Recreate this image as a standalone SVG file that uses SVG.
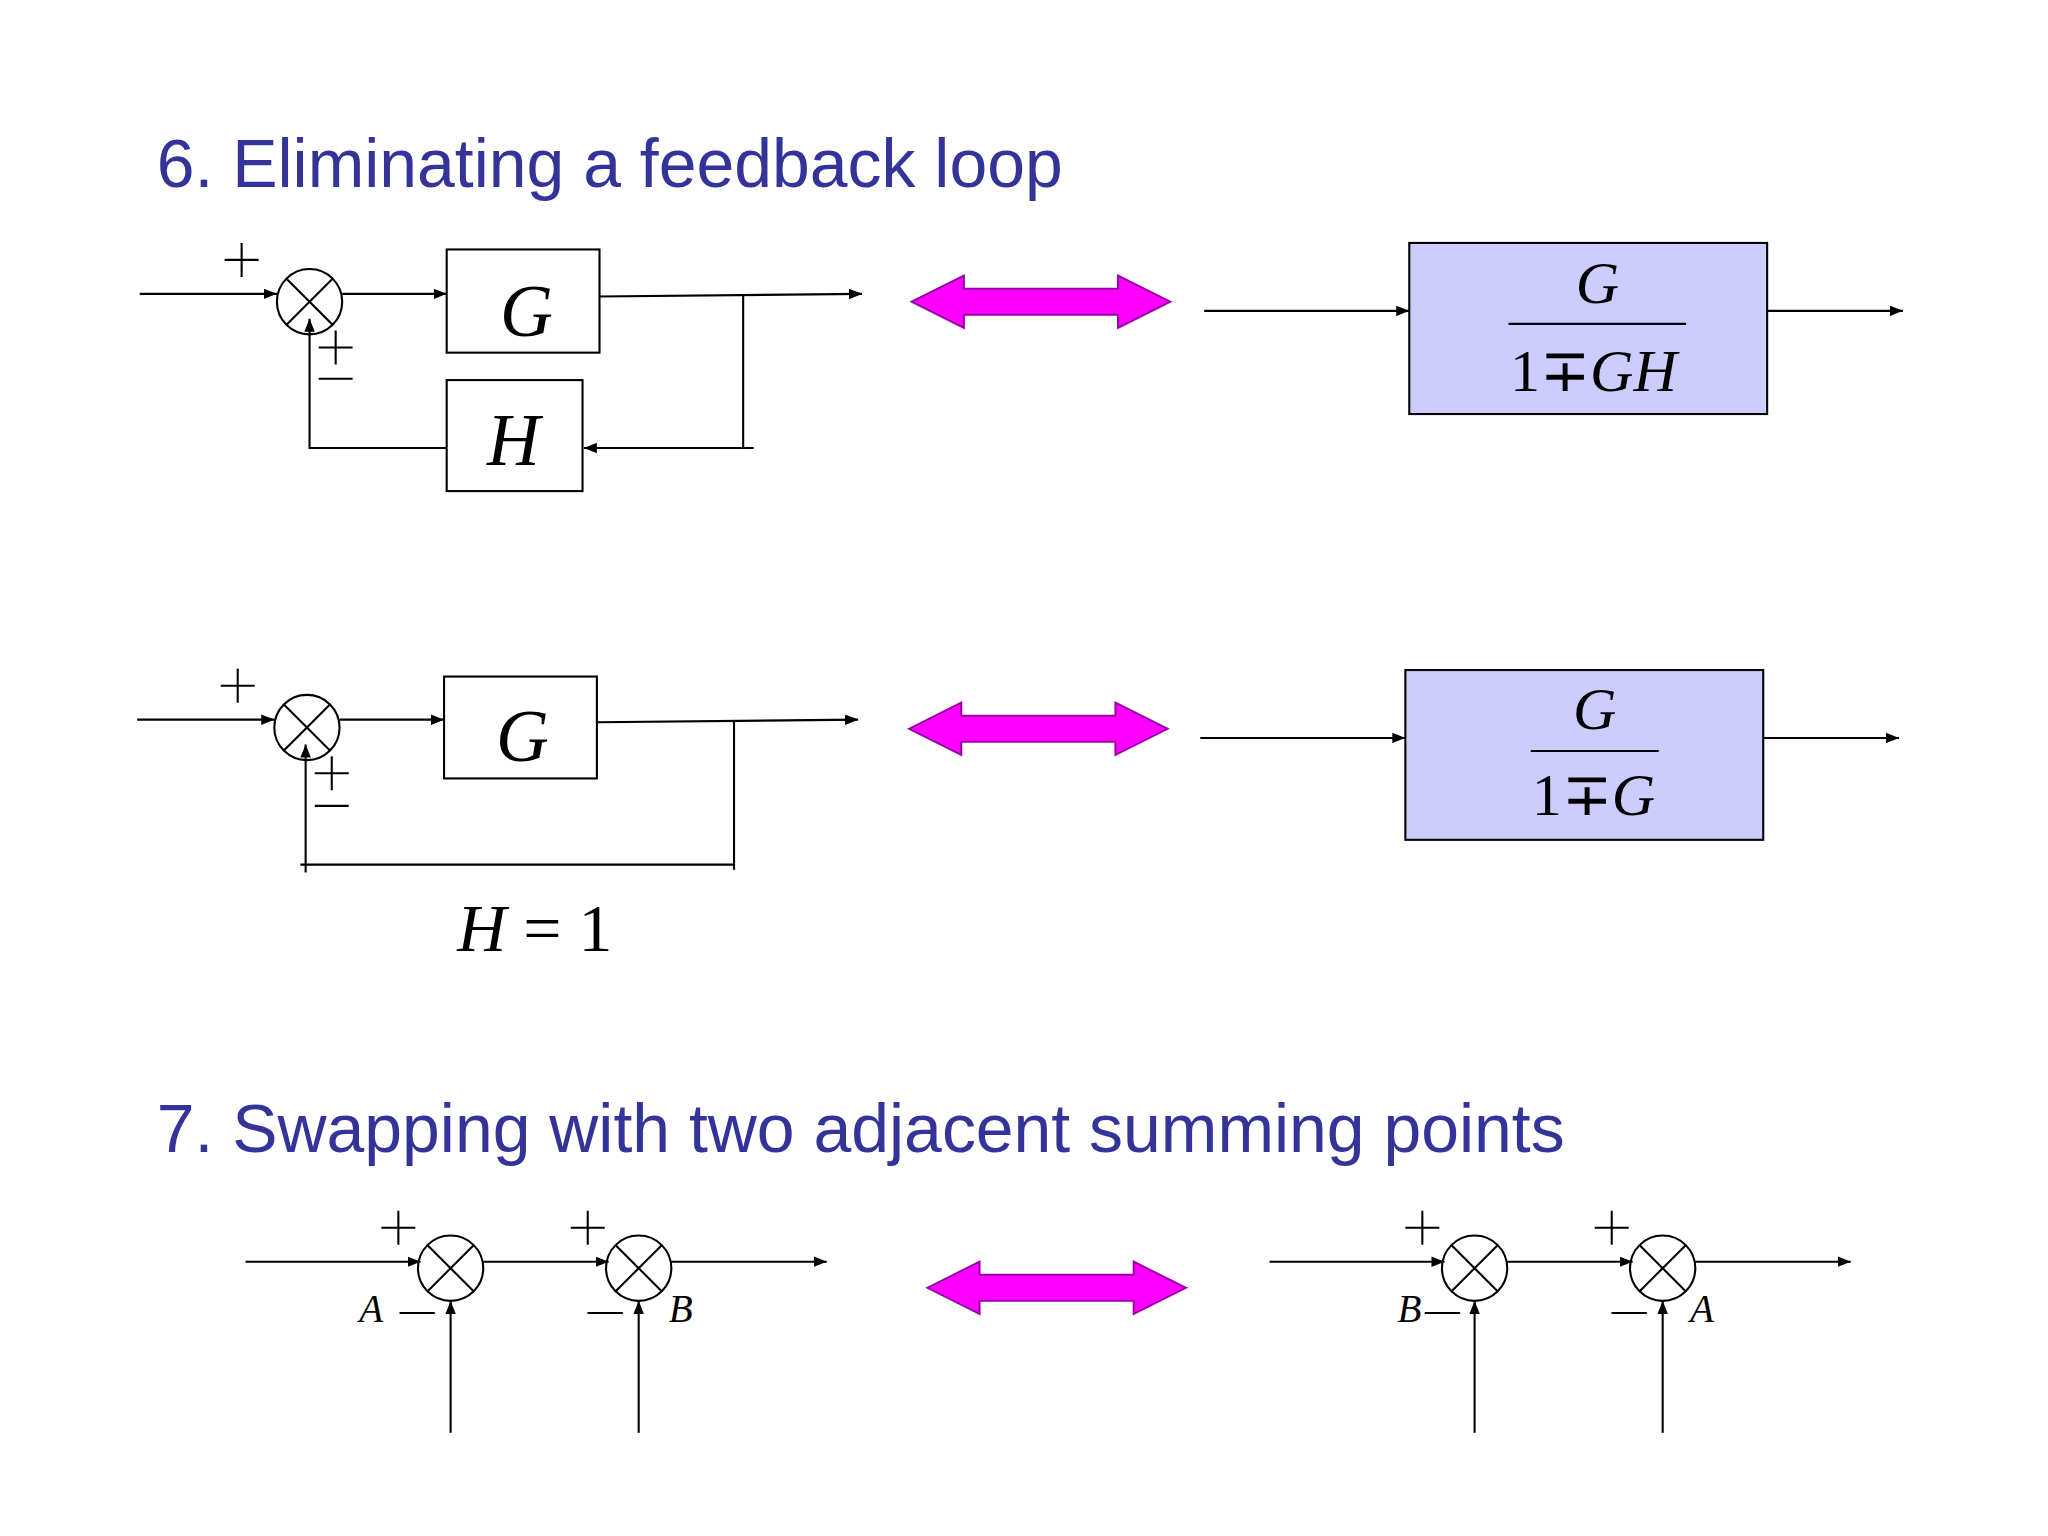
<svg xmlns="http://www.w3.org/2000/svg" width="2048" height="1536" viewBox="0 0 2048 1536">
<defs>
<marker id="ah" markerWidth="10" markerHeight="8" refX="10" refY="4" orient="auto" markerUnits="userSpaceOnUse"><path d="M0,0 L10,4 L0,8 Z" fill="#000"/></marker>
<style>
.ln{stroke:#000;stroke-width:1.6;fill:none}
.ar{stroke:#000;stroke-width:1.6;fill:none;marker-end:url(#ah)}
.bx{stroke:#000;stroke-width:1.6;fill:#fff}
.bb{stroke:#000;stroke-width:1.6;fill:#ccccff}
.t{font-family:"Liberation Serif",serif;font-style:italic;fill:#000}
.n{font-family:"Liberation Serif",serif;fill:#000}
.h{font-family:"Liberation Sans",Arial,sans-serif;fill:#333399;font-size:52px}
.mg{fill:#ff00ff;stroke:#9900aa;stroke-width:1.5}
</style>
</defs>
<rect width="2048" height="1536" fill="#fff"/>
<g transform="scale(1.3061)">
<text class="h" x="120" y="143">6. Eliminating a feedback loop</text>
<text class="h" x="120" y="882">7. Swapping with two adjacent summing points</text>

<g id="sum1"><circle cx="237" cy="231" r="25" class="bx"/><path class="ln" d="M219,213 L255,249 M255,213 L219,249"/></g>
<g id="G1"><rect x="342" y="191" width="117" height="79" class="bx"/><text class="t" x="403" y="257" font-size="56" text-anchor="middle">G</text></g>
<g id="H1"><rect x="342" y="291" width="104" height="85" class="bx"/><text class="t" x="393" y="356" font-size="56" text-anchor="middle">H</text></g>
<g id="R1"><rect x="1079" y="186" width="274" height="131" class="bb"/><text class="t" x="1223" y="232" font-size="46" text-anchor="middle">G</text><line class="ln" x1="1155" y1="248" x2="1291" y2="248"/><text class="n" x="1220" y="299" font-size="46" text-anchor="middle">1∓<tspan font-style="italic">GH</tspan></text></g>

<g id="sum2"><circle cx="235" cy="557" r="25" class="bx"/><path class="ln" d="M217,539 L253,575 M253,539 L217,575"/></g>
<g id="G2"><rect x="340" y="518" width="117" height="78" class="bx"/><text class="t" x="400" y="583" font-size="56" text-anchor="middle">G</text></g>
<g id="R2"><rect x="1076" y="513" width="274" height="130" class="bb"/><text class="t" x="1221" y="558" font-size="46" text-anchor="middle">G</text><line class="ln" x1="1172" y1="575" x2="1270" y2="575"/><text class="n" x="1220" y="624" font-size="46" text-anchor="middle">1∓<tspan font-style="italic">G</tspan></text></g>
<text class="t" x="350" y="728" font-size="52">H <tspan font-style="normal"> = 1</tspan></text>

<g id="s3"><circle cx="345" cy="971" r="25" class="bx"/><path class="ln" d="M327,953 L363,989 M363,953 L327,989"/></g>
<g id="s4"><circle cx="489" cy="971" r="25" class="bx"/><path class="ln" d="M471,953 L507,989 M507,953 L471,989"/></g>
<g id="s5"><circle cx="1129" cy="971" r="25" class="bx"/><path class="ln" d="M1111,953 L1147,989 M1147,953 L1111,989"/></g>
<g id="s6"><circle cx="1273" cy="971" r="25" class="bx"/><path class="ln" d="M1255,953 L1291,989 M1291,953 L1255,989"/></g>

<g id="arrows">
<path class="mg" d="M698,231 L738,211 L738,221 L856,221 L856,211 L896,231 L856,251 L856,241 L738,241 L738,251 Z"/>
<path class="mg" d="M696,558 L736,538 L736,548 L854,548 L854,538 L894,558 L854,578 L854,568 L736,568 L736,578 Z"/>
<path class="mg" d="M710,986 L750,966 L750,976 L868,976 L868,966 L908,986 L868,1006 L868,996 L750,996 L750,1006 Z"/>
</g>

<g id="connectors">
<path class="ar" d="M107,225 L212,225"/>
<path class="ar" d="M262,225 L342,225"/>
<path class="ar" d="M459,227 L660,225"/>
<path class="ar" d="M569,226 L569,343 L447,343"/>
<path class="ln" d="M569,343 L577,343"/>
<path class="ar" d="M342,343 L237,343 L237,244"/>
<path class="ar" d="M922,238 L1079,238"/>
<path class="ar" d="M1353,238 L1457,238"/>

<path class="ar" d="M105,551 L210,551"/>
<path class="ar" d="M260,551 L340,551"/>
<path class="ar" d="M457,553 L657,551"/>
<path class="ln" d="M562,552 L562,666 M562,662 L230,662"/>
<path class="ar" d="M234,668 L234,570"/>
<path class="ar" d="M919,565 L1076,565"/>
<path class="ar" d="M1350,565 L1454,565"/>

<path class="ar" d="M188,966 L322,966"/>
<path class="ar" d="M370,966 L466,966"/>
<path class="ar" d="M514,966 L633,966"/>
<path class="ar" d="M345,1097 L345,996"/>
<path class="ar" d="M489,1097 L489,996"/>
<path class="ar" d="M972,966 L1106,966"/>
<path class="ar" d="M1154,966 L1250,966"/>
<path class="ar" d="M1298,966 L1417,966"/>
<path class="ar" d="M1129,1097 L1129,996"/>
<path class="ar" d="M1273,1097 L1273,996"/>
</g>

<g id="signs" class="ln" stroke-width="1.4">
<path d="M172,199 H198 M185,186 V212"/>
<path d="M244,266 H270 M257,253 V279"/>
<path d="M244,290 H270"/>
<path d="M169,525 H195 M182,512 V538"/>
<path d="M241,592 H267 M254,579 V605"/>
<path d="M241,617 H267"/>
<path d="M292,940 H318 M305,927 V953"/>
<path d="M437,940 H463 M450,927 V953"/>
<path d="M1076,940 H1102 M1089,927 V953"/>
<path d="M1221,940 H1247 M1234,927 V953"/>
</g>
<g id="bl" class="t" font-size="30">
<text x="275" y="1012">A</text><text class="n" x="306" y="1012">—</text>
<text class="n" x="450" y="1012">—</text><text x="512" y="1012">B</text>
<text x="1070" y="1012">B</text><text class="n" x="1091" y="1012">—</text>
<text class="n" x="1234" y="1012">—</text><text x="1294" y="1012">A</text>
</g>
</g>
</svg>
